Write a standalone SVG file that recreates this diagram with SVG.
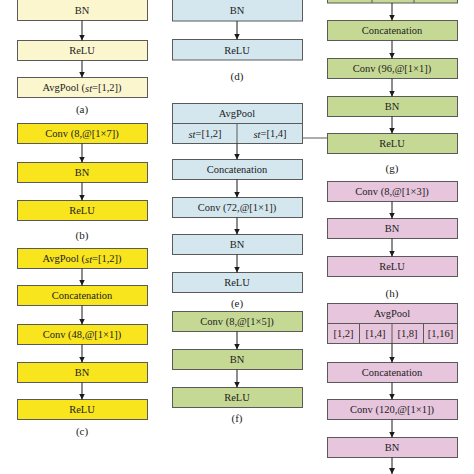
<svg xmlns="http://www.w3.org/2000/svg" width="474" height="474" viewBox="0 0 474 474">
<defs>
<marker id="ah" markerUnits="userSpaceOnUse" markerWidth="8" markerHeight="8" refX="6" refY="3" orient="auto">
<path d="M0,0 L6,3 L0,6 Z" fill="#1a1a1a"/>
</marker>
<style>
.bx{stroke:#5a5a5a;stroke-width:1}
.ly{fill:#FCF6CF}
.yb{fill:#F8E51E}
.bl{fill:#D4E7EE}
.gr{fill:#C6D994}
.pk{fill:#E6C5DD}
text{font-family:"Liberation Serif","Times New Roman",serif;font-size:10.5px;fill:#222;text-anchor:middle;dominant-baseline:central}
.cap{font-size:11px}
.ln{stroke:#5a5a5a;stroke-width:1;fill:none}
.ar{stroke:#1a1a1a;stroke-width:1;fill:none;marker-end:url(#ah)}
</style>
</defs>
<rect width="474" height="474" fill="#fff"/>

<g id="col-a">
<g id="a-bn"><rect class="bx ly" x="17.5" y="-5" width="130" height="25.5"/><text x="82" y="10">BN</text></g>
<g id="a-relu"><rect class="bx ly" x="17.5" y="40.5" width="130" height="20"/><text x="82" y="50.5">ReLU</text></g>
<g id="a-pool"><rect class="bx ly" x="17.5" y="77.5" width="130" height="20"/><text x="82" y="87.5">AvgPool (<tspan font-style="italic">st</tspan>=[1,2])</text></g>
<text class="cap" x="82" y="108.5">(a)</text>
</g>

<g id="col-b">
<g id="b-conv"><rect class="bx yb" x="17.5" y="123.5" width="130" height="20"/><text x="82" y="133.5">Conv (8,@[1×7])</text></g>
<g id="b-bn"><rect class="bx yb" x="17.5" y="162.5" width="130" height="20"/><text x="82" y="172.5">BN</text></g>
<g id="b-relu"><rect class="bx yb" x="17.5" y="200.5" width="130" height="20"/><text x="82" y="210.5">ReLU</text></g>
<text class="cap" x="82" y="234.5">(b)</text>
</g>

<g id="col-c">
<g id="c-pool"><rect class="bx yb" x="17.5" y="248.5" width="130" height="20"/><text x="82" y="258.5">AvgPool (<tspan font-style="italic">st</tspan>=[1,2])</text></g>
<g id="c-concat"><rect class="bx yb" x="17.5" y="285.5" width="130" height="20"/><text x="82" y="295.5">Concatenation</text></g>
<g id="c-conv"><rect class="bx yb" x="17.5" y="324.5" width="130" height="20"/><text x="82" y="334.5">Conv (48,@[1×1])</text></g>
<g id="c-bn"><rect class="bx yb" x="17.5" y="362.5" width="130" height="20"/><text x="82" y="372.5">BN</text></g>
<g id="c-relu"><rect class="bx yb" x="17.5" y="399.5" width="130" height="20"/><text x="82" y="409.5">ReLU</text></g>
<text class="cap" x="82" y="431">(c)</text>
</g>

<g id="col-d">
<g id="d-bn"><rect class="bx bl" x="172.5" y="-5" width="130" height="26"/><text x="237" y="10">BN</text></g>
<g id="d-relu"><rect class="bx bl" x="172.5" y="39.5" width="130" height="20.5"/><text x="237" y="50">ReLU</text></g>
<text class="cap" x="237" y="76">(d)</text>
</g>

<g id="col-e">
<g id="e-pool">
<rect class="bx bl" x="172.5" y="103.5" width="130" height="40"/>
<line class="ln" x1="172.5" y1="123.5" x2="302.5" y2="123.5"/>
<line class="ln" x1="237" y1="123.5" x2="237" y2="143.5"/>
<text x="237" y="113.5">AvgPool</text>
<text x="205" y="133.5"><tspan font-style="italic">st</tspan>=[1,2]</text>
<text x="270" y="133.5"><tspan font-style="italic">st</tspan>=[1,4]</text>
</g>
<g id="e-concat"><rect class="bx bl" x="172.5" y="159.5" width="130" height="20"/><text x="237" y="169.5">Concatenation</text></g>
<g id="e-conv"><rect class="bx bl" x="172.5" y="197.5" width="130" height="20"/><text x="237" y="207.5">Conv (72,@[1×1])</text></g>
<g id="e-bn"><rect class="bx bl" x="172.5" y="234.5" width="130" height="20"/><text x="237" y="244.5">BN</text></g>
<g id="e-relu"><rect class="bx bl" x="172.5" y="272.5" width="130" height="20"/><text x="237" y="282.5">ReLU</text></g>
<text class="cap" x="237" y="303">(e)</text>
</g>

<g id="col-f">
<g id="f-conv"><rect class="bx gr" x="172.5" y="311.5" width="130" height="20"/><text x="237" y="321.5">Conv (8,@[1×5])</text></g>
<g id="f-bn"><rect class="bx gr" x="172.5" y="349.5" width="130" height="20"/><text x="237" y="359.5">BN</text></g>
<g id="f-relu"><rect class="bx gr" x="172.5" y="387.5" width="130" height="20"/><text x="237" y="397.5">ReLU</text></g>
<text class="cap" x="237" y="418">(f)</text>
</g>

<g id="col-g">
<g id="g-pool">
<rect class="bx gr" x="327.5" y="-20" width="130" height="23"/>
<line class="ln" x1="372" y1="-20" x2="372" y2="3"/>
<line class="ln" x1="414" y1="-20" x2="414" y2="3"/>
</g>
<g id="g-concat"><rect class="bx gr" x="327.5" y="20.5" width="130" height="20"/><text x="392" y="30.5">Concatenation</text></g>
<g id="g-conv"><rect class="bx gr" x="327.5" y="58.5" width="130" height="20"/><text x="392" y="68.5">Conv (96,@[1×1])</text></g>
<g id="g-bn"><rect class="bx gr" x="327.5" y="96.5" width="130" height="20"/><text x="392" y="106.5">BN</text></g>
<g id="g-relu"><rect class="bx gr" x="327.5" y="133.5" width="130" height="20"/><text x="392" y="143.5">ReLU</text></g>
<text class="cap" x="392" y="168">(g)</text>
</g>

<g id="col-h">
<g id="h-conv"><rect class="bx pk" x="327.5" y="181.5" width="130" height="20"/><text x="392" y="191.5">Conv (8,@[1×3])</text></g>
<g id="h-bn"><rect class="bx pk" x="327.5" y="218.5" width="130" height="20"/><text x="392" y="228.5">BN</text></g>
<g id="h-relu"><rect class="bx pk" x="327.5" y="256.5" width="130" height="20"/><text x="392" y="266.5">ReLU</text></g>
<text class="cap" x="392" y="293">(h)</text>
</g>

<g id="col-i">
<g id="i-pool">
<rect class="bx pk" x="327.5" y="303.5" width="130" height="40"/>
<line class="ln" x1="327.5" y1="323.5" x2="457.5" y2="323.5"/>
<line class="ln" x1="359.5" y1="323.5" x2="359.5" y2="343.5"/>
<line class="ln" x1="392" y1="323.5" x2="392" y2="343.5"/>
<line class="ln" x1="423.5" y1="323.5" x2="423.5" y2="343.5"/>
<text x="392" y="313.5">AvgPool</text>
<text x="343.5" y="333.5">[1,2]</text>
<text x="375.5" y="333.5">[1,4]</text>
<text x="407.5" y="333.5">[1,8]</text>
<text x="440.5" y="333.5">[1,16]</text>
</g>
<g id="i-concat"><rect class="bx pk" x="327.5" y="362.5" width="130" height="20"/><text x="392" y="372.5">Concatenation</text></g>
<g id="i-conv"><rect class="bx pk" x="327.5" y="399.5" width="130" height="20"/><text x="392" y="409.5">Conv (120,@[1×1])</text></g>
<g id="i-bn"><rect class="bx pk" x="327.5" y="437.5" width="130" height="20"/><text x="392" y="447.5">BN</text></g>
</g>

<g id="connectors">
<line class="ar" x1="82" y1="20.5" x2="82" y2="40.5"/>
<line class="ar" x1="82" y1="60.5" x2="82" y2="77.5"/>
<line class="ar" x1="82" y1="143.5" x2="82" y2="162.5"/>
<line class="ar" x1="82" y1="182.5" x2="82" y2="200.5"/>
<line class="ar" x1="82" y1="268.5" x2="82" y2="285.5"/>
<line class="ar" x1="82" y1="305.5" x2="82" y2="324.5"/>
<line class="ar" x1="82" y1="344.5" x2="82" y2="362.5"/>
<line class="ar" x1="82" y1="382.5" x2="82" y2="399.5"/>

<line class="ar" x1="237" y1="21" x2="237" y2="39.5"/>
<line class="ar" x1="237" y1="143.5" x2="237" y2="159.5"/>
<line class="ar" x1="237" y1="179.5" x2="237" y2="197.5"/>
<line class="ar" x1="237" y1="217.5" x2="237" y2="234.5"/>
<line class="ar" x1="237" y1="254.5" x2="237" y2="272.5"/>
<line class="ar" x1="237" y1="331.5" x2="237" y2="349.5"/>
<line class="ar" x1="237" y1="369.5" x2="237" y2="387.5"/>

<line class="ar" x1="392" y1="3" x2="392" y2="20.5"/>
<line class="ar" x1="392" y1="40.5" x2="392" y2="58.5"/>
<line class="ar" x1="392" y1="78.5" x2="392" y2="96.5"/>
<line class="ar" x1="392" y1="116.5" x2="392" y2="133.5"/>
<line class="ar" x1="392" y1="201.5" x2="392" y2="218.5"/>
<line class="ar" x1="392" y1="238.5" x2="392" y2="256.5"/>
<line class="ar" x1="392" y1="343.5" x2="392" y2="362.5"/>
<line class="ar" x1="392" y1="382.5" x2="392" y2="399.5"/>
<line class="ar" x1="392" y1="419.5" x2="392" y2="437.5"/>
<line class="ar" x1="392" y1="457.5" x2="392" y2="474"/>

<line class="ln" x1="302.5" y1="138" x2="327.5" y2="138"/>
</g>
</svg>
